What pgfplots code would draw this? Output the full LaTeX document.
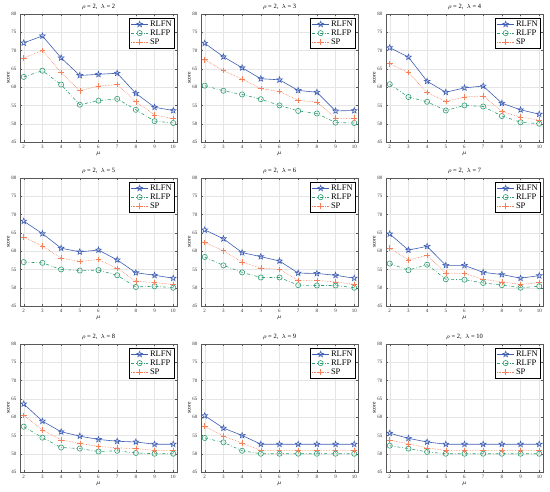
\documentclass[border=0pt]{standalone}
\usepackage{pgfplots}
\pgfplotsset{compat=1.18}
\usepackage{fontspec}
\setmainfont{Liberation Serif}
\definecolor{cN}{HTML}{3F5FB5}
\definecolor{cP}{HTML}{2E9E70}
\definecolor{cS}{HTML}{F4805A}
\pgfdeclareplotmark{pentagram}{%
  \pgfpathmoveto{\pgfqpointpolar{90}{\pgfplotmarksize}}%
  \pgfpathlineto{\pgfqpointpolar{126}{0.42\pgfplotmarksize}}%
  \pgfpathlineto{\pgfqpointpolar{162}{\pgfplotmarksize}}%
  \pgfpathlineto{\pgfqpointpolar{198}{0.42\pgfplotmarksize}}%
  \pgfpathlineto{\pgfqpointpolar{234}{\pgfplotmarksize}}%
  \pgfpathlineto{\pgfqpointpolar{270}{0.42\pgfplotmarksize}}%
  \pgfpathlineto{\pgfqpointpolar{306}{\pgfplotmarksize}}%
  \pgfpathlineto{\pgfqpointpolar{342}{0.42\pgfplotmarksize}}%
  \pgfpathlineto{\pgfqpointpolar{18}{\pgfplotmarksize}}%
  \pgfpathlineto{\pgfqpointpolar{54}{0.42\pgfplotmarksize}}%
  \pgfpathclose
  \pgfusepathqstroke}
\pgfplotsset{
  panel/.style={
    scale only axis, width=157pt, height=128pt,
    xmin=1.8, xmax=10.2, ymin=45, ymax=80,
    xtick={2,...,10}, ytick={45,50,...,80},
    tick align=inside, tick pos=both,
    major tick length=2pt,
    grid=major, grid style={gray!20, line width=0.3pt},
    axis line style={gray!70!black, line width=0.4pt},
    tick style={gray!70!black, line width=0.3pt},
    ticklabel style={font=\fontsize{5}{5}\selectfont, text=black!80},
    /pgf/number format/assume math mode=true,
    xlabel={$\mu$}, ylabel={score},
    xlabel style={font=\fontsize{6}{6}\selectfont, yshift=4pt},
    ylabel style={font=\fontsize{5.5}{5.5}\selectfont, yshift=-5pt},
    title style={font=\fontsize{6.5}{6.5}\selectfont, yshift=-5pt},
    legend style={at={(0.985,0.97)}, anchor=north east, font=\fontsize{8.5}{8.5}\selectfont,
      draw=black, line width=0.4pt, row sep=-1.2pt, inner sep=1.2pt,
      nodes={inner sep=1.5pt}},
    legend image code/.code={%
      \draw[mark repeat=2,mark phase=2] plot coordinates {(0cm,0cm) (0.3cm,0cm) (0.6cm,0cm)};},
    legend cell align=left,
  },
  sN/.style={cN, line width=0.6pt, mark=pentagram, mark size=3pt, mark options={solid}},
  sP/.style={cP, line width=0.6pt, dash dot, mark=o, mark size=2.6pt, mark options={solid, fill=white}},
  sS/.style={cS, line width=0.6pt, densely dotted, mark=+, mark size=2.8pt, mark options={solid}},
}
\newcommand{\panel}[6]{%
\begin{axis}[panel, at={(#1pt,#2pt)}, anchor=south west, title={$\rho$ = 2,\ \ $\lambda$ = #3}]
\addplot[sN] coordinates {#4};
\addplot[sP] coordinates {#5};
\addplot[sS] coordinates {#6};
\legend{RLFN,RLFP,SP}
\end{axis}}
\begin{document}
\begin{tikzpicture}
\useasboundingbox (0,0) rectangle (550pt,492pt);
\panel{20}{350}{2}
{(2,72.1)(3,74.0)(4,68.0)(5,63.2)(6,63.5)(7,63.8)(8,58.3)(9,54.5)(10,53.6)}
{(2,62.8)(3,64.5)(4,60.7)(5,55.2)(6,56.3)(7,56.8)(8,53.8)(9,50.7)(10,50.2)}
{(2,68.0)(3,70.0)(4,64.0)(5,59.0)(6,60.3)(7,60.7)(8,56.0)(9,52.4)(10,51.4)}
\panel{201}{350}{3}
{(2,72.0)(3,68.3)(4,65.3)(5,62.3)(6,62.0)(7,59.1)(8,58.6)(9,53.5)(10,53.6)}
{(2,60.4)(3,59.0)(4,58.0)(5,56.7)(6,55.0)(7,53.5)(8,52.8)(9,50.3)(10,50.2)}
{(2,67.5)(3,64.5)(4,62.2)(5,59.6)(6,58.8)(7,56.4)(8,55.9)(9,51.5)(10,51.5)}
\panel{386}{350}{4}
{(2,70.8)(3,68.2)(4,61.6)(5,58.6)(6,59.8)(7,60.3)(8,55.6)(9,53.8)(10,52.6)}
{(2,60.8)(3,57.3)(4,56.0)(5,53.6)(6,55.0)(7,54.7)(8,52.1)(9,50.4)(10,50.0)}
{(2,66.4)(3,64.0)(4,58.5)(5,56.1)(6,57.3)(7,57.6)(8,53.3)(9,51.8)(10,51.0)}
\panel{20}{186}{5}
{(2,68.2)(3,64.8)(4,60.8)(5,59.8)(6,60.3)(7,57.6)(8,54.1)(9,53.4)(10,52.6)}
{(2,57.0)(3,56.8)(4,55.0)(5,54.7)(6,54.8)(7,53.4)(8,50.2)(9,50.4)(10,50.0)}
{(2,63.8)(3,61.4)(4,58.1)(5,57.2)(6,57.7)(7,55.3)(8,51.8)(9,51.4)(10,50.9)}
\panel{201}{186}{6}
{(2,65.8)(3,63.4)(4,59.6)(5,58.5)(6,57.3)(7,54.0)(8,53.9)(9,53.4)(10,52.6)}
{(2,58.4)(3,56.1)(4,54.2)(5,52.8)(6,52.8)(7,50.7)(8,50.6)(9,50.6)(10,50.0)}
{(2,62.4)(3,60.1)(4,57.0)(5,55.4)(6,55.0)(7,52.0)(8,52.0)(9,51.6)(10,50.9)}
\panel{386}{186}{7}
{(2,64.7)(3,60.3)(4,61.3)(5,56.1)(6,56.1)(7,54.2)(8,53.6)(9,52.6)(10,53.3)}
{(2,56.6)(3,54.8)(4,56.3)(5,52.3)(6,52.2)(7,51.3)(8,50.7)(9,50.0)(10,50.4)}
{(2,60.8)(3,57.6)(4,58.8)(5,54.0)(6,53.9)(7,52.3)(8,51.6)(9,50.9)(10,51.4)}
\panel{20}{20}{8}
{(2,63.6)(3,58.9)(4,56.0)(5,54.8)(6,53.9)(7,53.4)(8,53.2)(9,52.6)(10,52.6)}
{(2,57.4)(3,54.4)(4,51.7)(5,51.4)(6,50.6)(7,50.8)(8,50.2)(9,50.0)(10,50.0)}
{(2,60.5)(3,56.5)(4,53.8)(5,52.8)(6,52.0)(7,51.6)(8,51.4)(9,50.9)(10,50.9)}
\panel{201}{20}{9}
{(2,60.4)(3,57.0)(4,55.0)(5,52.6)(6,52.6)(7,52.6)(8,52.6)(9,52.6)(10,52.6)}
{(2,54.3)(3,53.1)(4,50.8)(5,50.0)(6,50.0)(7,50.0)(8,50.0)(9,50.0)(10,50.0)}
{(2,57.5)(3,54.8)(4,52.9)(5,50.9)(6,50.9)(7,50.9)(8,50.9)(9,50.9)(10,50.9)}
\panel{386}{20}{10}
{(2,55.6)(3,54.2)(4,53.2)(5,52.6)(6,52.6)(7,52.6)(8,52.6)(9,52.6)(10,52.6)}
{(2,52.2)(3,51.4)(4,50.5)(5,50.0)(6,50.0)(7,50.0)(8,50.0)(9,50.0)(10,50.0)}
{(2,53.7)(3,52.7)(4,51.6)(5,50.9)(6,50.9)(7,50.9)(8,50.9)(9,50.9)(10,50.9)}
\end{tikzpicture}
\end{document}
